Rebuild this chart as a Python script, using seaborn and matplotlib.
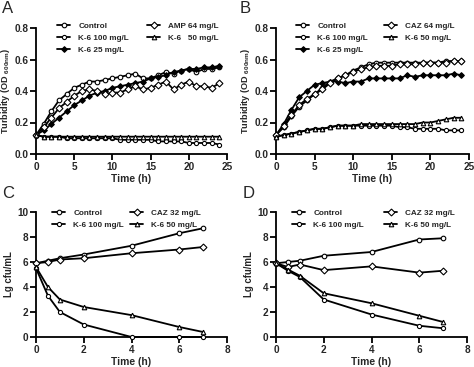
import numpy as np
import pandas as pd
import matplotlib
matplotlib.use("Agg")
import matplotlib.pyplot as plt
from matplotlib import font_manager
import seaborn as sns

# ---------------- data ----------------
hours = list(range(25))

a_control = [0.12, 0.19, 0.27, 0.34, 0.38, 0.42, 0.44, 0.46, 0.46, 0.47, 0.48, 0.49, 0.50, 0.51, 0.48,
             0.48, 0.50, 0.52, 0.51, 0.53, 0.54, 0.52, 0.54, 0.54, 0.55]
a_k6_100 = [0.12, 0.11, 0.11, 0.11, 0.10, 0.10, 0.10, 0.10, 0.10, 0.10, 0.10, 0.09, 0.09, 0.09, 0.09,
            0.09, 0.08, 0.08, 0.08, 0.08, 0.07, 0.07, 0.07, 0.07, 0.06]
a_k6_25 = [0.12, 0.15, 0.19, 0.23, 0.27, 0.31, 0.34, 0.37, 0.39, 0.40, 0.42, 0.43, 0.44, 0.45, 0.46,
           0.48, 0.49, 0.50, 0.52, 0.53, 0.54, 0.54, 0.55, 0.55, 0.56]
a_amp64 = [0.12, 0.17, 0.23, 0.29, 0.33, 0.37, 0.40, 0.41, 0.40, 0.38, 0.39, 0.39, 0.41, 0.43, 0.41,
           0.42, 0.44, 0.46, 0.41, 0.44, 0.46, 0.43, 0.43, 0.42, 0.45]
a_k6_50 = [0.12, 0.11, 0.11, 0.11, 0.11, 0.11, 0.11, 0.11, 0.11, 0.11, 0.11, 0.11, 0.11, 0.11, 0.11,
           0.11, 0.11, 0.11, 0.11, 0.11, 0.11, 0.11, 0.11, 0.11, 0.11]

b_control = [0.12, 0.17, 0.24, 0.30, 0.34, 0.38, 0.42, 0.46, 0.48, 0.50, 0.53, 0.55, 0.57, 0.58, 0.58,
             0.58, 0.58, 0.58, 0.58, 0.58, 0.58, 0.58, 0.59, 0.59, 0.59]
b_k6_100 = [0.11, 0.12, 0.13, 0.14, 0.15, 0.16, 0.16, 0.17, 0.18, 0.18, 0.18, 0.18, 0.18, 0.18, 0.18,
            0.18, 0.17, 0.17, 0.16, 0.16, 0.16, 0.16, 0.15, 0.15, 0.15]
b_k6_25 = [0.12, 0.19, 0.28, 0.36, 0.40, 0.44, 0.45, 0.46, 0.46, 0.45, 0.46, 0.46, 0.48, 0.48, 0.48,
           0.48, 0.48, 0.50, 0.49, 0.50, 0.50, 0.50, 0.50, 0.51, 0.50]
b_caz64 = [0.12, 0.18, 0.25, 0.31, 0.35, 0.38, 0.41, 0.45, 0.48, 0.50, 0.52, 0.54, 0.55, 0.56, 0.56,
           0.56, 0.57, 0.57, 0.57, 0.58, 0.58, 0.58, 0.58, 0.59, 0.59]
b_k6_50 = [0.11, 0.12, 0.13, 0.14, 0.15, 0.16, 0.16, 0.17, 0.18, 0.18, 0.18, 0.19, 0.19, 0.19, 0.19,
           0.19, 0.19, 0.19, 0.19, 0.20, 0.20, 0.21, 0.22, 0.23, 0.23]

kill_times = [0, 0.5, 1, 2, 4, 6, 7]
c_control = [5.9, 6.1, 6.3, 6.6, 7.3, 8.3, 8.7]
c_k6_100 = [5.5, 3.3, 2.0, 1.0, 0.0, 0.0, 0.0]
c_caz32 = [5.9, 6.0, 6.2, 6.3, 6.7, 7.0, 7.2]
c_k6_50 = [5.6, 4.0, 3.0, 2.4, 1.75, 0.8, 0.4]

d_control = [5.9, 6.0, 6.1, 6.5, 6.8, 7.8, 7.9]
d_k6_100 = [5.9, 5.3, 4.8, 3.0, 1.8, 0.9, 0.7]
d_caz32 = [5.9, 5.6, 5.8, 5.35, 5.65, 5.15, 5.3]
d_k6_50 = [5.9, 5.4, 4.9, 3.5, 2.7, 1.7, 1.2]

labels_a = ["Control", "K-6 100 mg/L", "K-6 25 mg/L", "AMP 64 mg/L", "K-6   50 mg/L"]
labels_b = ["Control", "K-6 100 mg/L", "K-6 25 mg/L", "CAZ 64 mg/L", "K-6 50 mg/L"]
labels_cd = ["Control", "K-6 100 mg/L", "CAZ 32 mg/L", "K-6 50 mg/L"]

# ---------------- style ----------------
sns.set_theme(style="ticks")
names = {f.name for f in font_manager.fontManager.ttflist}
narrow = "Liberation Sans Narrow" in names
fam = "Liberation Sans Narrow" if narrow else "Liberation Sans"
plt.rcParams["font.family"] = [fam, "Liberation Sans", "DejaVu Sans"]
plt.rcParams["font.weight"] = "bold"
plt.rcParams["axes.labelweight"] = "bold"
plt.rcParams["mathtext.fontset"] = "custom"
plt.rcParams["mathtext.bf"] = fam + ":bold"
plt.rcParams["mathtext.rm"] = fam + ":bold"
k = 1.0 if narrow else 0.92

fig = plt.figure(figsize=(4.74, 3.67), dpi=100)

W, H = 474.0, 367.0
def px_axes(x0, x1, ytop, ybot):
    return fig.add_axes([x0 / W, 1 - ybot / H, (x1 - x0) / W, (ybot - ytop) / H])

axA = px_axes(36, 227, 28, 154)
axB = px_axes(276, 469, 28, 154)
axC = px_axes(36, 227, 212, 337)
axD = px_axes(276, 467, 212, 337)

styles = {
    "Control": dict(marker="o", mfc="white", ms=3.3),
    "K-6 100": dict(marker="o", mfc="white", ms=3.0),
    "K-6 25": dict(marker="D", mfc="black", ms=2.9),
    "drug": dict(marker="D", mfc="white", ms=3.5),
    "K-6 50": dict(marker="^", mfc="white", ms=3.3),
}

def draw(ax, x, y, key, label):
    st = styles[key]
    df = pd.DataFrame({"x": x, "y": y})
    sns.lineplot(data=df, x="x", y="y", ax=ax, color="black", lw=1.3,
                 marker=st["marker"], markersize=st["ms"], markerfacecolor=st["mfc"],
                 markeredgecolor="black", markeredgewidth=0.8, label=label,
                 clip_on=False, zorder=3)

draw(axA, hours, a_control, "Control", labels_a[0])
draw(axA, hours, a_k6_100, "K-6 100", labels_a[1])
draw(axA, hours, a_k6_25, "K-6 25", labels_a[2])
draw(axA, hours, a_amp64, "drug", labels_a[3])
draw(axA, hours, a_k6_50, "K-6 50", labels_a[4])

draw(axB, hours, b_control, "Control", labels_b[0])
draw(axB, hours, b_k6_100, "K-6 100", labels_b[1])
draw(axB, hours, b_k6_25, "K-6 25", labels_b[2])
draw(axB, hours, b_caz64, "drug", labels_b[3])
draw(axB, hours, b_k6_50, "K-6 50", labels_b[4])

draw(axC, kill_times, c_control, "Control", labels_cd[0])
draw(axC, kill_times, c_k6_100, "K-6 100", labels_cd[1])
draw(axC, kill_times, c_caz32, "drug", labels_cd[2])
draw(axC, kill_times, c_k6_50, "K-6 50", labels_cd[3])

draw(axD, kill_times, d_control, "Control", labels_cd[0])
draw(axD, kill_times, d_k6_100, "K-6 100", labels_cd[1])
draw(axD, kill_times, d_caz32, "drug", labels_cd[2])
draw(axD, kill_times, d_k6_50, "K-6 50", labels_cd[3])

for ax in (axA, axB):
    ax.set_xlim(0, 25)
    ax.set_ylim(0, 0.8)
    ax.set_xticks([0, 5, 10, 15, 20, 25])
    ax.set_yticks([0.0, 0.2, 0.4, 0.6, 0.8])
    ax.set_yticklabels(["0.0", "0.2", "0.4", "0.6", "0.8"])
    ax.set_ylabel(r"Turbidity (OD $_{\mathbf{600nm}}$)", fontsize=7.2 * k, labelpad=2)
for ax in (axC, axD):
    ax.set_xlim(0, 8)
    ax.set_ylim(0, 10)
    ax.set_xticks([0, 2, 4, 6, 8])
    ax.set_yticks([0, 2, 4, 6, 8, 10])
    ax.set_ylabel("Lg cfu/mL", fontsize=7.5 * k, labelpad=2)

for ax in (axA, axB, axC, axD):
    ax.set_xlabel("Time (h)", fontsize=8 * k, labelpad=2)
    sns.despine(ax=ax)
    for s in ("left", "bottom"):
        ax.spines[s].set_linewidth(1.3)
        ax.spines[s].set_color("black")
    ax.tick_params(axis="both", which="major", length=4, width=1.3, labelsize=7.8 * k,
                   direction="out", pad=1.5, color="black")
    for t in ax.get_xticklabels() + ax.get_yticklabels():
        t.set_fontweight("bold")
    ax.set_facecolor("none")

def legend(ax, handles, labels, x_px, y_px):
    lg = ax.legend(handles, labels, loc="upper left", bbox_to_anchor=(x_px / W, 1 - y_px / H),
                   bbox_transform=fig.transFigure, ncol=1, frameon=False,
                   handlelength=1.6, handletextpad=1.0,
                   labelspacing=0.55, borderaxespad=0, borderpad=0,
                   prop={"weight": "bold", "size": 6.4 * k})
    return lg

def two_legends(ax, n1, x1, x2, y):
    h, l = ax.get_legend_handles_labels()
    lg1 = legend(ax, h[:n1], l[:n1], x1, y)
    ax.add_artist(lg1)
    legend(ax, h[n1:], l[n1:], x2, y)

two_legends(axA, 3, 57, 147, 22)
two_legends(axB, 3, 296, 384, 22)
two_legends(axC, 2, 52, 130, 209)
two_legends(axD, 2, 292, 384, 209)

for lab, x, y in (("A", 2, 1), ("B", 240, 1), ("C", 2, 186), ("D", 243, 186)):
    fig.text(x / W, 1 - y / H, lab, fontsize=12, fontweight="normal", va="top", ha="left",
             family="Liberation Sans")

fig.savefig("out.png", dpi=100)
